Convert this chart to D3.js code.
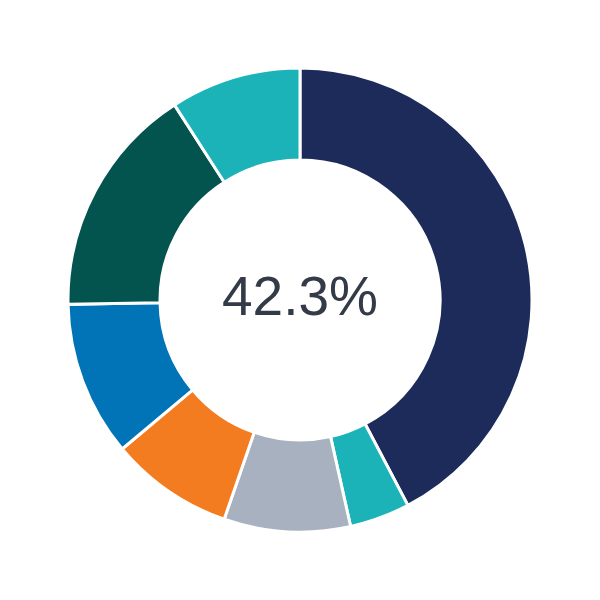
<!DOCTYPE html>
<html>
<head>
<meta charset="utf-8">
<script src="https://cdn.jsdelivr.net/npm/d3@7"></script>
<style>
  body { margin: 0; background: #fff; }
</style>
</head>
<body>
<svg id="chart" width="600" height="600"></svg>
<script>
const categories = ['A', 'B', 'C', 'D', 'E', 'F', 'G'];
const values = [42.3, 4.2, 8.8, 8.6, 10.8, 16.2, 9.1];
const colors = ['#1c2b5a', '#1bb3b8', '#a7b1c0', '#f47c20', '#0074b7', '#03534f', '#1bb3b8'];
const centerLabel = '42.3%';

const config = {
  'outer': 232,
  'inner': 140,
  'stroke': '#ffffff',
  'stroke-width': 3
};

const svg = d3.select('#chart');
const g = svg.append('g').attr('transform', 'translate(300, 300)');

const pie = d3.pie()
  .sort(null)
  .value(d => d);

const arc = d3.arc()
  .innerRadius(config['inner'])
  .outerRadius(config['outer']);

const color = d3.scaleOrdinal()
  .domain(categories)
  .range(colors);

g.selectAll('path')
  .data(pie(values))
  .enter()
  .append('path')
  .attr('d', arc)
  .attr('fill', (d, i) => color(categories[i]))
  .attr('stroke', config['stroke'])
  .attr('stroke-width', config['stroke-width']);

g.append('text')
  .attr('x', 0)
  .attr('y', 15)
  .attr('text-anchor', 'middle')
  .style('font-family', '"Liberation Sans", Arial, sans-serif')
  .style('font-size', '55px')
  .attr('fill', '#333b48')
  .text(centerLabel);
</script>
</body>
</html>
